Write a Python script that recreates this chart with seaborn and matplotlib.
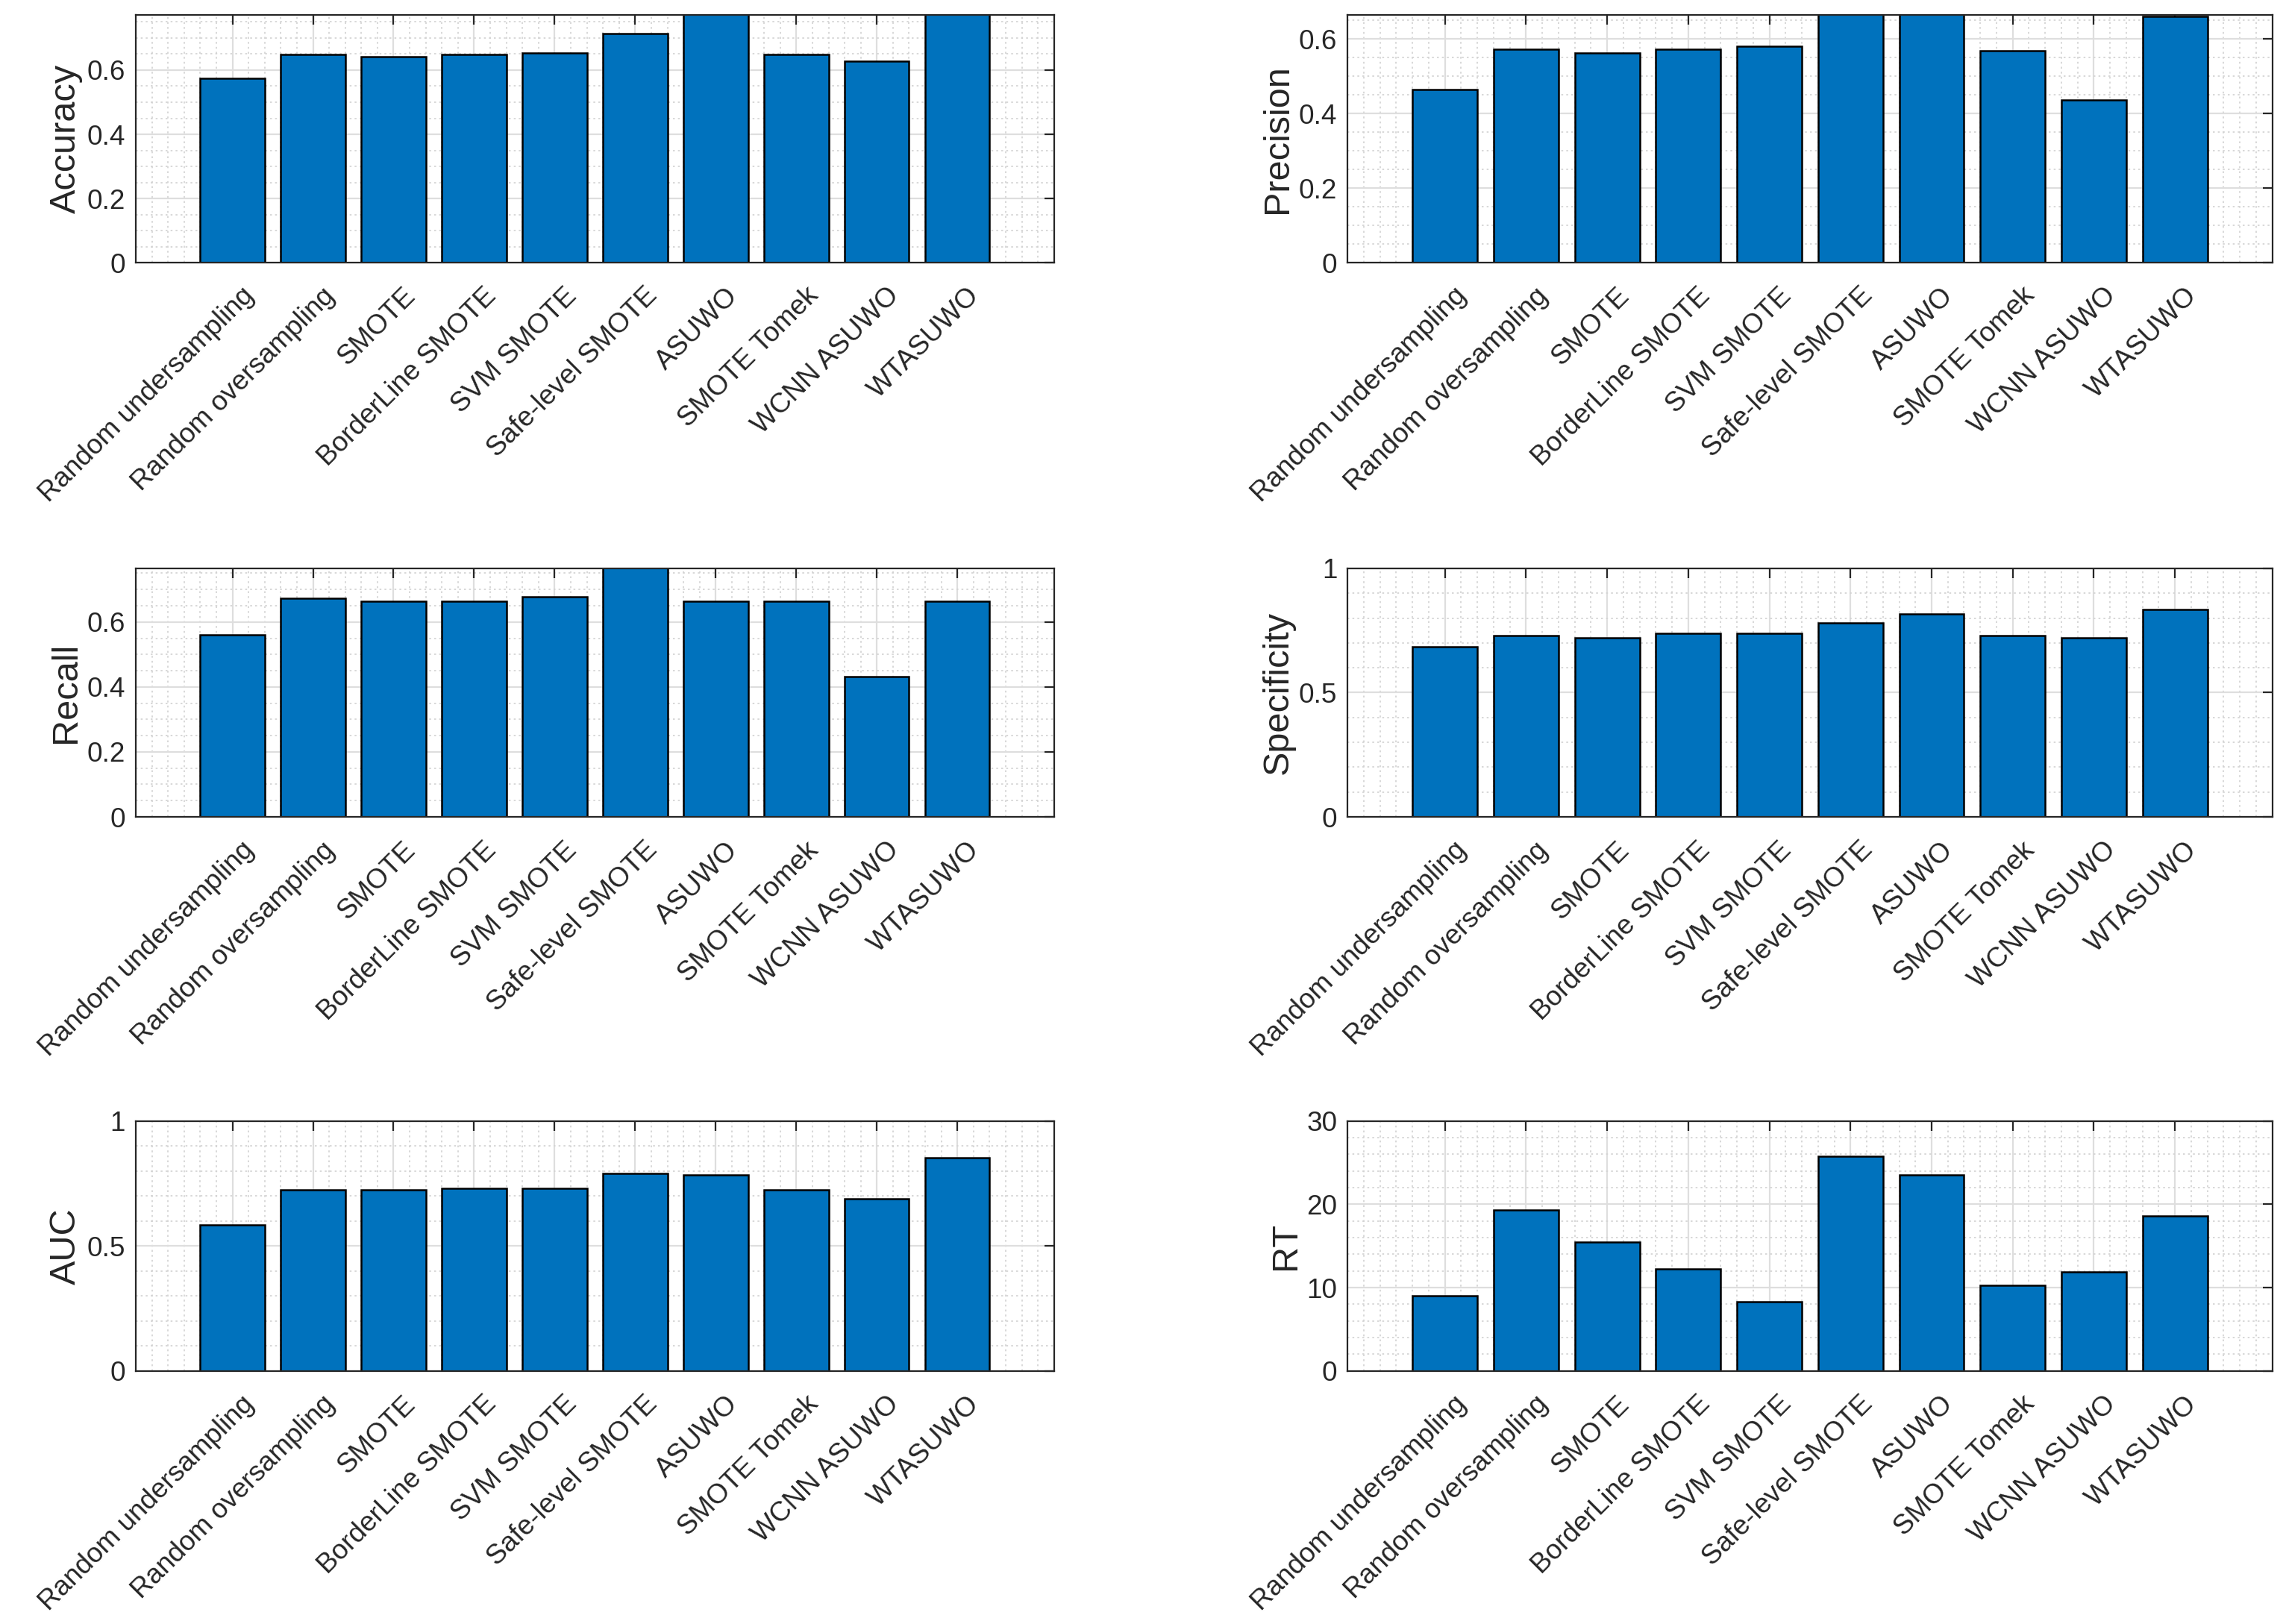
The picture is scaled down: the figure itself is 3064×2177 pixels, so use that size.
import matplotlib
matplotlib.use("Agg")
import matplotlib.pyplot as plt
import matplotlib.transforms as mtransforms
import seaborn as sns
import numpy as np
import pandas as pd
from matplotlib.ticker import MultipleLocator

# ---------------- data ----------------
methods = ["Random undersampling", "Random oversampling", "SMOTE", "BorderLine SMOTE",
           "SVM SMOTE", "Safe-level SMOTE", "ASUWO", "SMOTE Tomek", "WCNN ASUWO", "WTASUWO"]
accuracy = [0.574, 0.648, 0.641, 0.648, 0.654, 0.714, 0.80, 0.648, 0.627, 0.81]
precision = [0.464, 0.573, 0.562, 0.573, 0.580, 0.69, 0.69, 0.568, 0.436, 0.660]
recall = [0.560, 0.672, 0.664, 0.664, 0.677, 0.78, 0.664, 0.664, 0.432, 0.664]
specificity = [0.686, 0.730, 0.721, 0.739, 0.739, 0.782, 0.817, 0.730, 0.721, 0.834]
auc = [0.584, 0.723, 0.723, 0.731, 0.731, 0.791, 0.783, 0.723, 0.688, 0.852]
rt = [9.0, 19.3, 15.5, 12.2, 8.3, 25.8, 23.5, 10.3, 11.9, 18.6]

acc_ticks = [0, 0.2, 0.4, 0.6]
acc_labels = ["0", "0.2", "0.4", "0.6"]
unit_ticks = [0, 0.5, 1]
unit_labels = ["0", "0.5", "1"]
rt_ticks = [0, 10, 20, 30]
rt_labels = ["0", "10", "20", "30"]

# ---------------- style ----------------
sns.set_style("white")
plt.rcParams["font.family"] = ["Liberation Sans", "DejaVu Sans"]

TXT = "#262626"
BAR = "#0072BD"

fig = plt.figure(figsize=(15.32, 10.885), dpi=200)

col_left = [0.0594, 0.5895]
col_w = [0.4017, 0.4045]
row_bottom = [0.8383, 0.4970, 0.1558]
row_h = [0.1525, 0.1530, 0.1540]

panels = [
    ("Accuracy", accuracy, 0.772, acc_ticks, acc_labels, 0.05, 0, 0),
    ("Precision", precision, 0.664, acc_ticks, acc_labels, 0.05, 0, 1),
    ("Recall", recall, 0.765, acc_ticks, acc_labels, 0.05, 1, 0),
    ("Specificity", specificity, 1.0, unit_ticks, unit_labels, 0.1, 1, 1),
    ("AUC", auc, 1.0, unit_ticks, unit_labels, 0.1, 2, 0),
    ("RT", rt, 30, rt_ticks, rt_labels, 2, 2, 1),
]

label_shift = mtransforms.ScaledTranslation(24 / 200, -6 / 200, fig.dpi_scale_trans)

for name, vals, top, ticks, labels, minor, r, c in panels:
    pos = [col_left[c], row_bottom[r], col_w[c], row_h[r]]
    bg = fig.add_axes(pos, zorder=0)
    ax = fig.add_axes(pos, zorder=1)
    df = pd.DataFrame({"method": methods, "value": vals})
    sns.barplot(data=df, x="method", y="value", ax=ax, color=BAR, saturation=1,
                edgecolor="black", linewidth=0.9, width=0.8)
    n = len(methods)
    ax.set_xlim(-1.2, n - 1 + 1.2)
    ax.set_ylim(0, top)
    ax.set_yticks(ticks)
    ax.set_yticklabels(labels)
    ax.patch.set_alpha(0)
    ax.grid(False)
    ax.set_xlabel("")
    ax.set_ylabel(name, fontsize=17.5, color=TXT, labelpad=2)
    ax.tick_params(which="major", direction="in", length=4.7, width=0.8,
                   top=True, right=True, colors=TXT, labelsize=13.3, pad=5)
    ax.tick_params(which="minor", length=0)
    ax.tick_params(axis="x", pad=12)
    for lab in ax.get_xticklabels():
        lab.set_rotation(45)
        lab.set_ha("right")
        lab.set_va("center")
        lab.set_rotation_mode("anchor")
        lab.set_transform(lab.get_transform() + label_shift)
    for sp in ax.spines.values():
        sp.set_visible(True)
        sp.set_color(TXT)
        sp.set_linewidth(0.8)

    # grid underlay
    bg.set_xlim(ax.get_xlim())
    bg.set_ylim(ax.get_ylim())
    bg.set_xticks(ax.get_xticks())
    bg.set_yticks(ticks)
    bg.xaxis.set_minor_locator(MultipleLocator(0.2))
    bg.yaxis.set_minor_locator(MultipleLocator(minor))
    bg.grid(which="major", color="#dedede", linewidth=0.8)
    bg.grid(which="minor", color="#d2d2d2", linewidth=0.6, linestyle=(0, (1.5, 2.5)))
    bg.tick_params(which="both", length=0, labelleft=False, labelbottom=False)
    bg.set_facecolor("white")
    for sp in bg.spines.values():
        sp.set_visible(False)

fig.savefig("out.png", dpi=200, facecolor="white")
